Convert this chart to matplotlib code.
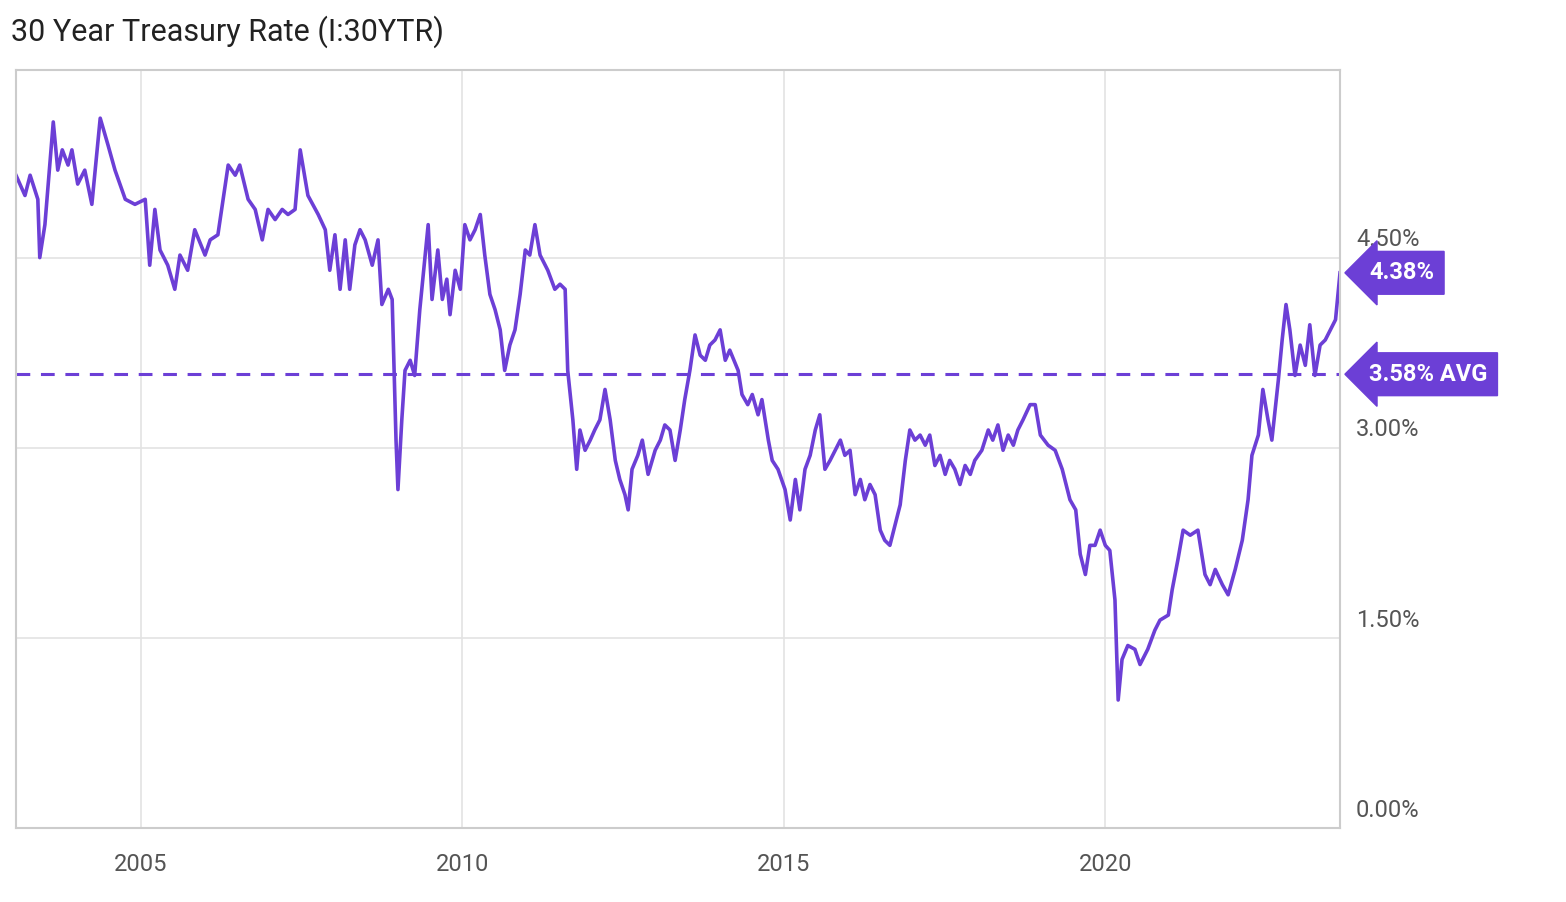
import matplotlib
matplotlib.use("Agg")
import matplotlib.pyplot as plt

years = [2003.06,2003.20,2003.28,2003.40,2003.43,2003.51,2003.64,2003.71,2003.78,2003.87,2003.93,2004.02,2004.13,2004.24,2004.37,2004.49,2004.60,2004.76,2004.91,2005.07,2005.14,2005.22,2005.30,2005.42,2005.53,2005.61,2005.73,2005.84,2006.00,2006.08,2006.20,2006.36,2006.47,2006.54,2006.67,2006.78,2006.89,2006.98,2007.09,2007.20,2007.29,2007.40,2007.48,2007.60,2007.76,2007.87,2007.94,2008.02,2008.10,2008.18,2008.25,2008.33,2008.41,2008.49,2008.60,2008.69,2008.75,2008.85,2008.91,2008.97,2009.00,2009.06,2009.11,2009.19,2009.26,2009.34,2009.47,2009.53,2009.62,2009.69,2009.76,2009.81,2009.89,2009.97,2010.04,2010.12,2010.20,2010.28,2010.35,2010.43,2010.51,2010.59,2010.66,2010.74,2010.82,2010.90,2010.98,2011.05,2011.13,2011.21,2011.33,2011.44,2011.52,2011.60,2011.64,2011.72,2011.78,2011.83,2011.91,2011.99,2012.06,2012.14,2012.22,2012.30,2012.38,2012.45,2012.53,2012.58,2012.64,2012.73,2012.80,2012.89,2013.00,2013.08,2013.15,2013.23,2013.31,2013.39,2013.46,2013.54,2013.62,2013.70,2013.78,2013.85,2013.93,2014.01,2014.09,2014.16,2014.29,2014.35,2014.44,2014.51,2014.60,2014.66,2014.76,2014.82,2014.91,2015.02,2015.10,2015.18,2015.25,2015.33,2015.41,2015.49,2015.56,2015.64,2015.72,2015.80,2015.88,2015.95,2016.03,2016.11,2016.19,2016.26,2016.34,2016.42,2016.50,2016.57,2016.65,2016.73,2016.81,2016.89,2016.96,2017.04,2017.12,2017.20,2017.27,2017.35,2017.43,2017.51,2017.58,2017.66,2017.74,2017.82,2017.90,2017.97,2018.08,2018.18,2018.25,2018.33,2018.41,2018.49,2018.57,2018.64,2018.72,2018.83,2018.91,2018.99,2019.11,2019.22,2019.33,2019.45,2019.54,2019.61,2019.69,2019.76,2019.84,2019.92,2020.00,2020.07,2020.15,2020.20,2020.26,2020.35,2020.46,2020.54,2020.66,2020.77,2020.85,2020.98,2021.04,2021.13,2021.21,2021.32,2021.44,2021.55,2021.63,2021.71,2021.82,2021.91,2022.02,2022.13,2022.22,2022.28,2022.38,2022.45,2022.53,2022.59,2022.69,2022.75,2022.81,2022.87,2022.95,2023.03,2023.11,2023.18,2023.26,2023.34,2023.42,2023.50,2023.58,2023.65]
rates = [5.15,4.99,5.15,4.96,4.50,4.76,5.57,5.19,5.35,5.23,5.35,5.08,5.19,4.92,5.60,5.39,5.19,4.96,4.92,4.96,4.44,4.88,4.56,4.44,4.25,4.52,4.40,4.72,4.52,4.64,4.68,5.23,5.15,5.23,4.96,4.88,4.64,4.88,4.80,4.88,4.84,4.88,5.35,4.99,4.84,4.72,4.40,4.68,4.25,4.64,4.25,4.60,4.72,4.64,4.44,4.64,4.13,4.25,4.17,3.06,2.67,3.22,3.61,3.69,3.57,4.09,4.76,4.17,4.56,4.17,4.33,4.05,4.40,4.25,4.76,4.64,4.72,4.84,4.52,4.21,4.09,3.93,3.61,3.81,3.93,4.21,4.56,4.52,4.76,4.52,4.40,4.25,4.29,4.25,3.61,3.22,2.83,3.14,2.98,3.06,3.14,3.22,3.46,3.22,2.90,2.75,2.63,2.51,2.83,2.94,3.06,2.79,2.98,3.06,3.18,3.14,2.90,3.14,3.38,3.61,3.89,3.73,3.69,3.81,3.85,3.93,3.69,3.77,3.61,3.42,3.34,3.42,3.26,3.38,3.06,2.90,2.83,2.67,2.43,2.75,2.51,2.83,2.94,3.14,3.26,2.83,2.90,2.98,3.06,2.94,2.98,2.63,2.75,2.59,2.71,2.63,2.35,2.27,2.23,2.39,2.55,2.90,3.14,3.06,3.10,3.02,3.10,2.86,2.94,2.79,2.90,2.83,2.71,2.86,2.79,2.90,2.98,3.14,3.06,3.18,2.98,3.10,3.02,3.14,3.22,3.34,3.34,3.10,3.02,2.98,2.83,2.59,2.51,2.16,2.00,2.23,2.23,2.35,2.23,2.19,1.80,1.01,1.33,1.44,1.41,1.29,1.41,1.56,1.64,1.68,1.88,2.12,2.35,2.31,2.35,2.00,1.92,2.04,1.92,1.84,2.04,2.27,2.59,2.94,3.10,3.46,3.22,3.06,3.53,3.85,4.13,3.93,3.57,3.81,3.65,3.97,3.57,3.81,3.85,3.93,4.01,4.38]
avg_rate = 3.58
last_rate = 4.38
x_ticks = [2005, 2010, 2015, 2020]
y_ticks = [0.0, 1.5, 3.0, 4.5]
title = "30 Year Treasury Rate (I:30YTR)"

purple = "#6c3fd6"
plt.rcParams["font.family"] = "Roboto"
fig = plt.figure(figsize=(15.66, 9.02), dpi=100)
ax = fig.add_axes([0.0102, 0.082, 0.8455, 0.8404])
ax.plot(years, rates, color=purple, lw=2.6, solid_joinstyle="round")
ax.axhline(avg_rate, color=purple, lw=2.2, ls=(0, (4.5, 3.5)))
ax.set_xlim(2003.06, 2023.65)
ax.set_ylim(0, 5.98)
ax.set_xticks(x_ticks)
ax.set_xticklabels([str(t) for t in x_ticks], fontsize=17, color="#555555")
ax.set_yticks(y_ticks)
ax.set_yticklabels([])
ax.tick_params(length=0, pad=18)
ax.grid(True, color="#e3e3e3", lw=1.2)
for s in ax.spines.values():
    s.set_color("#cccccc"); s.set_linewidth(1.5)
for t in y_ticks:
    ax.text(1.012, t + 0.05, f"{t:.2f}%", transform=ax.get_yaxis_transform(),
            fontsize=17, color="#555555", va="bottom", ha="left")
box = dict(boxstyle="larrow,pad=0.42", fc=purple, ec=purple)
ax.text(1.022, last_rate, f"{last_rate:.2f}%", transform=ax.get_yaxis_transform(),
        fontsize=17, color="white", fontweight="bold", va="center", ha="left", bbox=box, clip_on=False)
ax.text(1.022, avg_rate, f"{avg_rate:.2f}% AVG", transform=ax.get_yaxis_transform(),
        fontsize=17, color="white", fontweight="bold", va="center", ha="left", bbox=box, clip_on=False)
fig.text(0.007, 0.965, title, fontsize=22, color="#222222", va="center", ha="left")
fig.savefig("out.png", dpi=100)
